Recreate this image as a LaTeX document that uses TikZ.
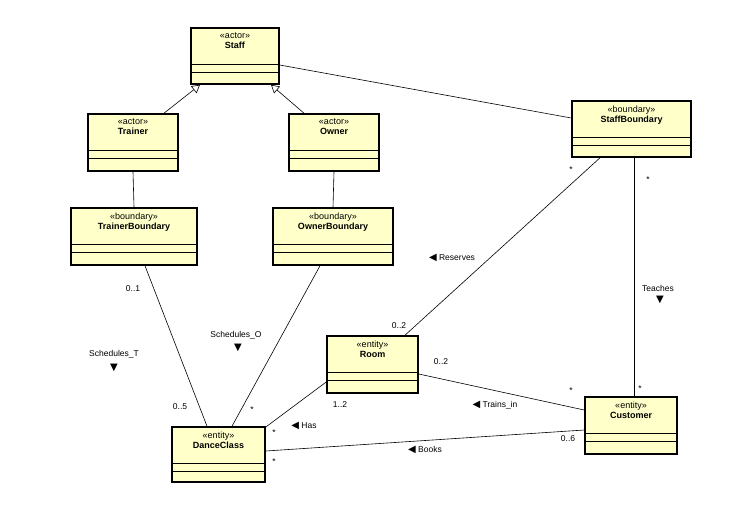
\documentclass[tikz,border=0pt]{standalone}
\usepackage{fontspec}
\setmainfont{Liberation Sans}
\newfontfamily\dejavu{DejaVu Sans}
\usetikzlibrary{arrows.meta}
\definecolor{umlfill}{RGB}{255,255,202}
\newcommand{\umlcls}[7]{%
  \node[cls,minimum width={(#4-#2)*1pt},minimum height={(#5-#3)*1pt}] (#1) at ({(#2+#4)/2},{(#3+#5)/2}) {};
  \node[anchor=north,align=center,font=\fontsize{9}{10.5}\selectfont,inner sep=0pt] at ([yshift=-5pt]#1.north) {<<#6>>\\\textbf{#7}};
  \draw[thick] ([yshift=-37pt]#1.north west) -- ([yshift=-37pt]#1.north east);
  \draw[thick] ([yshift=-45pt]#1.north west) -- ([yshift=-45pt]#1.north east);
}
\begin{document}
\begin{tikzpicture}[x=1pt,y=-1pt,
  cls/.style={draw,line width=1.6pt,fill=umlfill,inner sep=0pt},
  lab/.style={font=\fontsize{8.5}{10}\selectfont,inner sep=1pt},
  tri/.style={font=\dejavu\fontsize{10}{10}\selectfont,inner sep=0pt},
  gen/.style={-{Triangle[open,length=8pt,width=9pt]}},
  line width=0.6pt]
\useasboundingbox (0,0) rectangle (744,515);
\umlcls{staff}{191}{28}{279}{84}{actor}{Staff}
\umlcls{trainer}{88}{114}{178}{171}{actor}{Trainer}
\umlcls{owner}{289}{114}{379}{171}{actor}{Owner}
\umlcls{sb}{572}{101}{691}{157}{boundary}{StaffBoundary}
\umlcls{tb}{71}{208}{197}{265}{boundary}{TrainerBoundary}
\umlcls{ob}{273}{208}{393}{265}{boundary}{OwnerBoundary}
\umlcls{room}{327}{336}{418}{393}{entity}{Room}
\umlcls{dc}{172}{427}{265}{482}{entity}{DanceClass}
\umlcls{cust}{585}{397}{677}{454}{entity}{Customer}
% generalizations
\draw[gen] (trainer.north -| 164,0) -- (staff.south -| 200,0);
\draw[gen] (owner.north -| 304,0) -- (staff.south -| 271,0);
% associations
\draw (staff.east |- 0,65) -- (sb.west |- 0,118);
\draw (trainer.south) -- (tb.north);
\draw (owner.south) -- (ob.north);
\draw (tb.south -| 145,0) -- (dc.north -| 207,0);
\draw (ob.south -| 320,0) -- (dc.north -| 232,0);
\draw (sb.south -| 600,0) -- (room.north -| 405,0);
\draw (sb.south -| 634,0) -- (cust.north -| 634,0);
\draw (room.west |- 0,382) -- (dc.east |- 0,427);
\draw (room.east |- 0,374) -- (cust.west |- 0,410);
\draw (dc.east |- 0,451) -- (cust.west |- 0,430);
% labels
\node[lab] (l1) at (133,289) {0..1};
\node[lab] (l2) at (180,407) {0..5};
\node[lab] (l3) at (252,410) {*};
\node[lab] (l4) at (236,335) {Schedules\_O};
\node[tri] (l5) at (238,348) {▼};
\node[lab] (l6) at (114,354) {Schedules\_T};
\node[tri] (l7) at (114,368) {▼};
\node[lab] (l8) at (571,170) {*};
\node[lab] (l9) at (399,326) {0..2};
\node[lab] (l10) at (452,258) {{\dejavu\fontsize{10}{10}\selectfont ◀} Reserves};
\node[lab] (l11) at (648,180) {*};
\node[lab] (l12) at (640,389) {*};
\node[lab] (l13) at (658,288) {Teaches};
\node[tri] (l14) at (660,300) {▼};
\node[lab] (l15) at (340,405) {1..2};
\node[lab] (l16) at (274,433) {*};
\node[lab] (l17) at (304,426) {{\dejavu\fontsize{10}{10}\selectfont ◀} Has};
\node[lab] (l18) at (441,362) {0..2};
\node[lab] (l19) at (571,391) {*};
\node[lab] (l20) at (495,405) {{\dejavu\fontsize{10}{10}\selectfont ◀} Trains\_in};
\node[lab] (l21) at (274,462) {*};
\node[lab] (l22) at (568,439) {0..6};
\node[lab] (l23) at (425,450) {{\dejavu\fontsize{10}{10}\selectfont ◀} Books};
\end{tikzpicture}
\end{document}
